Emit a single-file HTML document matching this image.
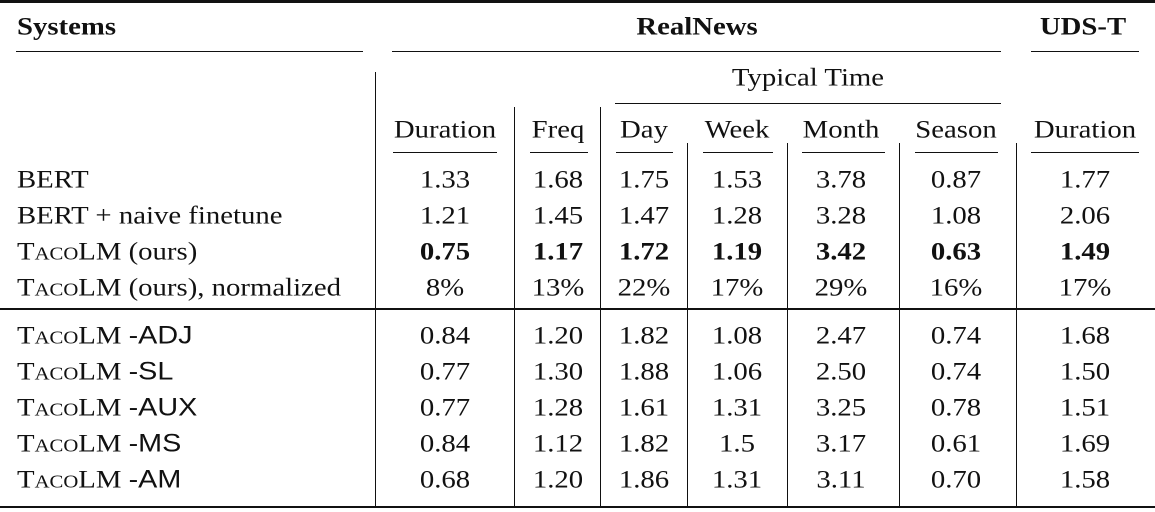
<!DOCTYPE html>
<html><head><meta charset="utf-8"><style>
html,body{margin:0;padding:0;background:#fff;}
#w{position:relative;width:1155px;height:512px;overflow:hidden;font-family:"Liberation Serif",serif;font-size:25px;color:#111;}
.c{position:absolute;transform:translate(-50%,-50%) scaleX(1.15);white-space:nowrap;line-height:1;}
.l{position:absolute;left:17px;transform-origin:0 50%;transform:translateY(-50%) scaleX(1.15);white-space:nowrap;line-height:1;}
.b{font-weight:bold;}
.sc{font-variant:small-caps;}
.sf{font-family:"Liberation Sans",sans-serif;}
.h{position:absolute;background:#111;height:1.3px;}
.v{position:absolute;background:#111;width:1.3px;}
</style></head><body><div id="w">
<div class="h" style="left:0;top:0;width:1155px;height:3px"></div>
<div class="h" style="left:0;top:308px;width:1155px;height:1.6px"></div>
<div class="h" style="left:0;top:506px;width:1155px;height:2px"></div>
<div class="h" style="left:16px;top:51px;width:347px"></div>
<div class="h" style="left:392px;top:51px;width:609px"></div>
<div class="h" style="left:1031px;top:51px;width:108px"></div>
<div class="h" style="left:615px;top:103px;width:386px"></div>
<div class="h" style="left:393px;top:152px;width:104px"></div>
<div class="h" style="left:530px;top:152px;width:58px"></div>
<div class="h" style="left:616px;top:152px;width:57px"></div>
<div class="h" style="left:703px;top:152px;width:70px"></div>
<div class="h" style="left:802px;top:152px;width:83px"></div>
<div class="h" style="left:915px;top:152px;width:83px"></div>
<div class="h" style="left:1031px;top:152px;width:108px"></div>
<div class="v" style="left:375px;top:72px;height:436px"></div>
<div class="v" style="left:514px;top:107px;height:401px"></div>
<div class="v" style="left:600px;top:107px;height:401px"></div>
<div class="v" style="left:687px;top:143px;height:365px"></div>
<div class="v" style="left:787px;top:143px;height:365px"></div>
<div class="v" style="left:899px;top:143px;height:365px"></div>
<div class="v" style="left:1016px;top:143px;height:365px"></div>

<div class="l b" style="top:27px">Systems</div>
<div class="c b" style="left:697px;top:27px">RealNews</div>
<div class="c b" style="left:1083px;top:27px">UDS-T</div>
<div class="c" style="left:808px;top:78px">Typical Time</div>
<div class="c" style="left:445px;top:130px">Duration</div>
<div class="c" style="left:558px;top:130px">Freq</div>
<div class="c" style="left:644px;top:130px">Day</div>
<div class="c" style="left:737px;top:130px">Week</div>
<div class="c" style="left:841px;top:130px">Month</div>
<div class="c" style="left:956px;top:130px">Season</div>
<div class="c" style="left:1085px;top:130px">Duration</div>

<div class="l" style="top:180px">BERT</div>
<div class="c" style="left:445px;top:180px">1.33</div><div class="c" style="left:558px;top:180px">1.68</div><div class="c" style="left:644px;top:180px">1.75</div><div class="c" style="left:737px;top:180px">1.53</div><div class="c" style="left:841px;top:180px">3.78</div><div class="c" style="left:956px;top:180px">0.87</div><div class="c" style="left:1085px;top:180px">1.77</div>

<div class="l" style="top:216px">BERT + naive finetune</div>
<div class="c" style="left:445px;top:216px">1.21</div><div class="c" style="left:558px;top:216px">1.45</div><div class="c" style="left:644px;top:216px">1.47</div><div class="c" style="left:737px;top:216px">1.28</div><div class="c" style="left:841px;top:216px">3.28</div><div class="c" style="left:956px;top:216px">1.08</div><div class="c" style="left:1085px;top:216px">2.06</div>

<div class="l" style="top:252px">T<span class="sc">aco</span>LM (ours)</div>
<div class="c b" style="left:445px;top:252px">0.75</div><div class="c b" style="left:558px;top:252px">1.17</div><div class="c b" style="left:644px;top:252px">1.72</div><div class="c b" style="left:737px;top:252px">1.19</div><div class="c b" style="left:841px;top:252px">3.42</div><div class="c b" style="left:956px;top:252px">0.63</div><div class="c b" style="left:1085px;top:252px">1.49</div>

<div class="l" style="top:288px">T<span class="sc">aco</span>LM (ours), normalized</div>
<div class="c" style="left:445px;top:288px">8%</div><div class="c" style="left:558px;top:288px">13%</div><div class="c" style="left:644px;top:288px">22%</div><div class="c" style="left:737px;top:288px">17%</div><div class="c" style="left:841px;top:288px">29%</div><div class="c" style="left:956px;top:288px">16%</div><div class="c" style="left:1085px;top:288px">17%</div>

<div class="l" style="top:336px">T<span class="sc">aco</span>LM <span class="sf">-ADJ</span></div>
<div class="c" style="left:445px;top:336px">0.84</div><div class="c" style="left:558px;top:336px">1.20</div><div class="c" style="left:644px;top:336px">1.82</div><div class="c" style="left:737px;top:336px">1.08</div><div class="c" style="left:841px;top:336px">2.47</div><div class="c" style="left:956px;top:336px">0.74</div><div class="c" style="left:1085px;top:336px">1.68</div>

<div class="l" style="top:372px">T<span class="sc">aco</span>LM <span class="sf">-SL</span></div>
<div class="c" style="left:445px;top:372px">0.77</div><div class="c" style="left:558px;top:372px">1.30</div><div class="c" style="left:644px;top:372px">1.88</div><div class="c" style="left:737px;top:372px">1.06</div><div class="c" style="left:841px;top:372px">2.50</div><div class="c" style="left:956px;top:372px">0.74</div><div class="c" style="left:1085px;top:372px">1.50</div>

<div class="l" style="top:408px">T<span class="sc">aco</span>LM <span class="sf">-AUX</span></div>
<div class="c" style="left:445px;top:408px">0.77</div><div class="c" style="left:558px;top:408px">1.28</div><div class="c" style="left:644px;top:408px">1.61</div><div class="c" style="left:737px;top:408px">1.31</div><div class="c" style="left:841px;top:408px">3.25</div><div class="c" style="left:956px;top:408px">0.78</div><div class="c" style="left:1085px;top:408px">1.51</div>

<div class="l" style="top:444px">T<span class="sc">aco</span>LM <span class="sf">-MS</span></div>
<div class="c" style="left:445px;top:444px">0.84</div><div class="c" style="left:558px;top:444px">1.12</div><div class="c" style="left:644px;top:444px">1.82</div><div class="c" style="left:737px;top:444px">1.5</div><div class="c" style="left:841px;top:444px">3.17</div><div class="c" style="left:956px;top:444px">0.61</div><div class="c" style="left:1085px;top:444px">1.69</div>

<div class="l" style="top:480px">T<span class="sc">aco</span>LM <span class="sf">-AM</span></div>
<div class="c" style="left:445px;top:480px">0.68</div><div class="c" style="left:558px;top:480px">1.20</div><div class="c" style="left:644px;top:480px">1.86</div><div class="c" style="left:737px;top:480px">1.31</div><div class="c" style="left:841px;top:480px">3.11</div><div class="c" style="left:956px;top:480px">0.70</div><div class="c" style="left:1085px;top:480px">1.58</div>
</div></body></html>
